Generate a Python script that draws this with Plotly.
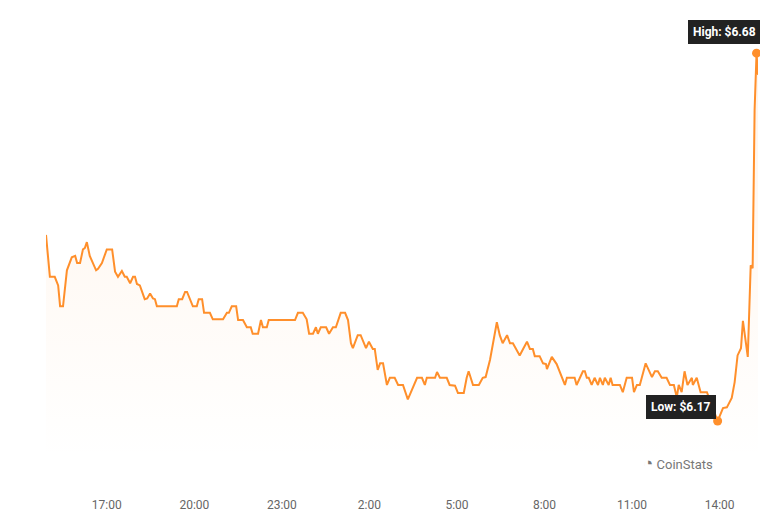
import plotly.graph_objects as go
from datetime import datetime, timedelta

start = datetime(2024, 5, 1, 14, 55)
minutes = [0,8,18,25,29,35,43,53,60,64,70,76,80,84,90,103,107,115,125,136,142,148,156,162,166,173,179,183,187,193,203,208,214,220,224,228,269,273,280,286,290,302,310,314,321,325,337,343,364,372,376,382,391,395,405,413,421,425,436,442,446,454,458,512,518,528,536,541,549,555,559,565,576,582,590,596,606,615,621,627,631,641,647,658,664,672,676,682,687,693,701,707,717,724,734,744,763,773,779,783,800,804,810,824,830,841,847,859,865,869,878,890,898,904,913,919,927,933,939,948,954,960,966,974,981,989,995,1001,1005,1015,1022,1028,1030,1040,1050,1067,1071,1087,1091,1104,1108,1112,1116,1122,1128,1135,1139,1145,1149,1157,1161,1165,1180,1186,1194,1205,1209,1215,1221,1233,1246,1252,1258,1266,1276,1283,1291,1297,1301,1307,1313,1319,1328,1330,1338,1346,1359,1381,1392,1400,1410,1416,1422,1429,1433,1443,1449,1453,1457,1461,1464]
prices = [6.428,6.370,6.370,6.358,6.329,6.329,6.379,6.397,6.399,6.389,6.389,6.408,6.410,6.418,6.399,6.379,6.381,6.389,6.408,6.408,6.377,6.370,6.378,6.370,6.370,6.361,6.370,6.370,6.360,6.358,6.339,6.340,6.347,6.340,6.339,6.329,6.329,6.339,6.339,6.349,6.349,6.329,6.329,6.339,6.339,6.320,6.320,6.311,6.311,6.320,6.320,6.329,6.329,6.310,6.310,6.300,6.300,6.291,6.291,6.310,6.300,6.300,6.310,6.310,6.320,6.320,6.311,6.291,6.291,6.300,6.291,6.300,6.300,6.291,6.300,6.300,6.320,6.320,6.310,6.278,6.271,6.289,6.289,6.271,6.280,6.270,6.270,6.241,6.250,6.250,6.220,6.230,6.230,6.220,6.220,6.200,6.230,6.230,6.220,6.230,6.230,6.238,6.230,6.230,6.220,6.219,6.209,6.209,6.230,6.239,6.220,6.220,6.230,6.231,6.255,6.280,6.307,6.289,6.278,6.289,6.278,6.278,6.270,6.261,6.270,6.280,6.270,6.270,6.260,6.260,6.250,6.249,6.242,6.259,6.249,6.220,6.230,6.230,6.220,6.239,6.239,6.230,6.230,6.220,6.230,6.220,6.230,6.220,6.230,6.220,6.230,6.220,6.220,6.210,6.230,6.230,6.210,6.220,6.220,6.250,6.231,6.239,6.239,6.230,6.230,6.220,6.220,6.203,6.220,6.210,6.239,6.220,6.230,6.220,6.230,6.210,6.210,6.170,6.188,6.189,6.202,6.224,6.261,6.271,6.309,6.259,6.386,6.382,6.601,6.680,6.650]
tick_labels = ["17:00","20:00","23:00","2:00","5:00","8:00","11:00","14:00"]
tick_times = [datetime(2024,5,1,17),datetime(2024,5,1,20),datetime(2024,5,1,23),datetime(2024,5,2,2),
              datetime(2024,5,2,5),datetime(2024,5,2,8),datetime(2024,5,2,11),datetime(2024,5,2,14)]

times = [start + timedelta(minutes=m) for m in minutes]
ymin, ymax = 6.116, 6.726
hi = prices.index(max(prices)); lo = prices.index(min(prices))
orange = "#ff8f2b"

fig = go.Figure()
fig.add_trace(go.Scatter(x=times, y=[ymin]*len(times), mode="lines", line=dict(width=0), hoverinfo="skip"))
fig.add_trace(go.Scatter(x=times, y=prices, mode="lines", line=dict(color=orange, width=2),
                         fill="tonexty",
                         fillgradient=dict(type="vertical",
                                           colorscale=[[0, "rgba(255,143,43,0.0)"], [1, "rgba(255,143,43,0.10)"]])))
fig.add_trace(go.Scatter(x=[times[hi], times[lo]], y=[prices[hi], prices[lo]], mode="markers",
                         marker=dict(color=orange, size=9), cliponaxis=False))

ann_font = dict(family="Roboto", size=12, color="white")
fig.add_annotation(x=times[hi], y=prices[hi], text="<b>High: $%.2f</b>" % prices[hi], showarrow=False,
                   xanchor="right", yanchor="bottom", yshift=9, xshift=4, bgcolor="#222222",
                   bordercolor="#222222", borderpad=4, font=ann_font)
fig.add_annotation(x=times[lo], y=prices[lo], text="<b>Low: $%.2f</b>" % prices[lo], showarrow=False,
                   xanchor="right", yanchor="bottom", xshift=-2, yshift=2, bgcolor="#222222",
                   bordercolor="#222222", borderpad=4, font=ann_font)
fig.add_annotation(xref="paper", yref="paper", x=0.94, y=-0.035, text="<span style='font-size:17px'>◔</span> CoinStats",
                   showarrow=False, xanchor="right", font=dict(family="Roboto", size=13, color="#777"))

fig.update_layout(
    width=760, height=516, showlegend=False, plot_bgcolor="white", paper_bgcolor="white",
    margin=dict(l=38, r=10, t=12, b=64),
    xaxis=dict(range=[times[0], times[-1]], tickvals=tick_times, ticktext=tick_labels, showgrid=False,
               zeroline=False, showline=False, ticks="", ticklabelstandoff=36,
               tickfont=dict(family="Roboto", size=12, color="#666")),
    yaxis=dict(range=[ymin, ymax], visible=False),
)
fig.write_html("out.html")
